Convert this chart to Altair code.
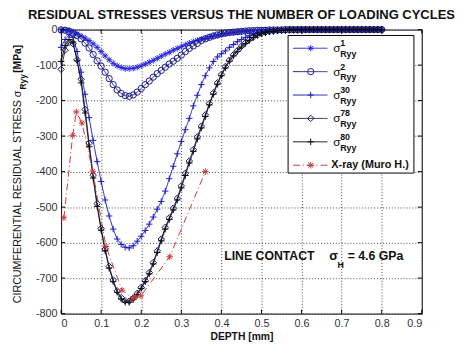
import altair as alt
import pandas as pd

# ---------------- data ----------------
depth = [round(i * 0.01, 2) for i in range(81)]

s1 = [0, -1, -2, -6, -12, -18, -24, -31, -40, -50,
      -62, -74, -85, -95, -102, -107, -110, -110, -109, -106,
      -102, -97, -92, -87, -81, -75, -69, -64, -58, -53,
      -48, -43, -38, -34, -30, -27, -24, -21, -18, -16,
      -14, -12, -10, -9, -7, -6, -5, -4, -3, -3,
      -2, -2, -1, -1, -1, -1, 0, 0, 0, 0,
      0, 0, 0, 0, 0, 0, 0, 0, 0, 0,
      0, 0, 0, 0, 0, 0, 0, 0, 0, 0,
      0]

s2 = [-1, -2, -5, -10, -17, -26, -38, -52, -70, -88,
      -103, -120, -138, -155, -170, -180, -186, -188, -184, -176,
      -166, -155, -145, -134, -124, -115, -106, -97, -89, -81,
      -72, -62, -53, -46, -39, -31, -26, -22, -18, -15,
      -12, -10, -8, -7, -6, -5, -4, -3, -3, -2,
      -2, -2, -1, -1, -1, -1, 0, 0, 0, 0,
      0, 0, 0, 0, 0, 0, 0, 0, 0, 0,
      0, 0, 0, 0, 0, 0, 0, 0, 0, 0,
      0]

s30 = [-50, -28, -15, -22, -62, -120, -182, -248, -312, -372,
       -428, -480, -525, -562, -590, -605, -613, -615, -609, -596,
       -582, -566, -548, -528, -506, -484, -455, -420, -385, -350,
       -315, -282, -250, -215, -185, -155, -130, -108, -90, -77,
       -68, -60, -50, -42, -34, -28, -22, -17, -13, -10,
       -8, -6, -5, -4, -3, -2, -2, -1, -1, -1,
       0, 0, 0, 0, 0, 0, 0, 0, 0, 0,
       0, 0, 0, 0, 0, 0, 0, 0, 0, 0,
       0]

s78 = [-112, -58, -36, -40, -85, -140, -225, -320, -410, -490,
       -560, -618, -667, -705, -736, -755, -764, -765, -756, -743,
       -726, -707, -684, -656, -623, -590, -557, -530, -503, -475,
       -440, -405, -370, -338, -302, -272, -240, -208, -178, -150,
       -126, -104, -86, -71, -59, -47, -37, -28, -21, -15,
       -11, -8, -6, -4, -3, -2, -2, -1, -1, -1,
       0, 0, 0, 0, 0, 0, 0, 0, 0, 0,
       0, 0, 0, 0, 0, 0, 0, 0, 0, 0,
       0]

s80 = [-90, -45, -28, -35, -88, -150, -235, -330, -418, -498,
       -565, -623, -672, -710, -740, -759, -768, -768, -760, -746,
       -729, -710, -688, -660, -628, -595, -562, -535, -508, -480,
       -446, -411, -376, -343, -308, -277, -245, -212, -182, -154,
       -130, -108, -89, -74, -61, -49, -39, -30, -22, -16,
       -12, -9, -6, -5, -3, -2, -2, -1, -1, -1,
       0, 0, 0, 0, 0, 0, 0, 0, 0, 0,
       0, 0, 0, 0, 0, 0, 0, 0, 0, 0,
       0]

xray_depth = [0.007, 0.029, 0.038, 0.052, 0.079, 0.112, 0.152, 0.179, 0.186, 0.199, 0.271, 0.360]
xray_val = [-530, -298, -232, -263, -399, -611, -734, -758, -753, -750, -640, -400]

series_keys = ["s1", "s2", "s30", "s78", "s80", "xray"]
sup_labels = ["1", "2", "30", "78", "80", ""]
x_ticks = [0, 0.1, 0.2, 0.3, 0.4, 0.5, 0.6, 0.7, 0.8, 0.9]
y_ticks = [0, -100, -200, -300, -400, -500, -600, -700, -800]

# ---------------- styling ----------------
colors = ["#2424e0", "#1c1c8a", "#1a1ac4", "#14145a", "#0a0a0a", "#c83838"]
asterisk = "M-1,0L1,0M0,-1L0,1M-0.7,-0.7L0.7,0.7M-0.7,0.7L0.7,-0.7"
plus = "M-1,0L1,0M0,-1L0,1"
shapes = [asterisk, "circle", plus, "diamond", plus, asterisk]
sizes = [40, 45, 60, 45, 60, 50]
dashes = [[1, 0], [1, 0], [1, 0], [1, 0], [1, 0], [7, 3, 1, 3]]
FONT = "Liberation Sans"

W, H = 367, 289

rows = []
for key, vals in zip(series_keys[:5], [s1, s2, s30, s78, s80]):
    for d, v in zip(depth, vals):
        rows.append({"series": key, "depth": d, "stress": v})
for d, v in zip(xray_depth, xray_val):
    rows.append({"series": "xray", "depth": d, "stress": v})
df = pd.DataFrame(rows)

xsc = alt.Scale(domain=[0, 0.9], nice=False, zero=False)
ysc = alt.Scale(domain=[-800, 0], nice=False, zero=False)
csc = alt.Scale(domain=series_keys, range=colors)
shsc = alt.Scale(domain=series_keys, range=shapes)
szsc = alt.Scale(domain=series_keys, range=sizes)
dsc = alt.Scale(domain=series_keys, range=dashes)

xaxis = alt.Axis(values=x_ticks, labelExpr="format(datum.value, '.1~f')", grid=True,
                 gridDash=[1, 2], gridColor="#444444", ticks=False, domain=False,
                 labelOverlap=False,
                 labelFont=FONT, labelFontSize=11, labelColor="#333333", labelPadding=4,
                 title="DEPTH [mm]", titleFont=FONT, titleFontSize=10.5, titleFontWeight="bold",
                 titlePadding=3, titleColor="#111111")
yaxis = alt.Axis(values=y_ticks, labelExpr="datum.value == 0 ? '0' : '-' + abs(datum.value)",
                 grid=True, gridDash=[1, 2], gridColor="#444444", ticks=False, domain=False,
                 labelOverlap=False,
                 labelFont=FONT, labelFontSize=11, labelColor="#333333", labelPadding=4,
                 title=None)

base = alt.Chart(df)
lines = base.mark_line(strokeWidth=1).encode(
    x=alt.X("depth:Q", scale=xsc, axis=xaxis),
    y=alt.Y("stress:Q", scale=ysc, axis=yaxis),
    color=alt.Color("series:N", scale=csc, legend=None),
    strokeDash=alt.StrokeDash("series:N", scale=dsc, legend=None),
    detail="series:N",
    order="depth:Q",
)
points = base.mark_point(filled=False, strokeWidth=1, opacity=1).encode(
    x=alt.X("depth:Q", scale=xsc, axis=xaxis),
    y=alt.Y("stress:Q", scale=ysc, axis=yaxis),
    color=alt.Color("series:N", scale=csc, legend=None),
    shape=alt.Shape("series:N", scale=shsc, legend=None),
    size=alt.Size("series:N", scale=szsc, legend=None),
)

# inward ticks on the four sides (same fields as the data so the axes merge)
xt = pd.DataFrame({"depth": x_ticks})
yt = pd.DataFrame({"stress": y_ticks})
tick_b = alt.Chart(xt).mark_rule(color="black").encode(
    x=alt.X("depth:Q", scale=xsc, axis=xaxis), y=alt.value(H), y2=alt.value(H - 4))
tick_t = alt.Chart(xt).mark_rule(color="black").encode(
    x=alt.X("depth:Q", scale=xsc, axis=xaxis), y=alt.value(0), y2=alt.value(4))
tick_l = alt.Chart(yt).mark_rule(color="black").encode(
    y=alt.Y("stress:Q", scale=ysc, axis=yaxis), x=alt.value(0), x2=alt.value(4))
tick_r = alt.Chart(yt).mark_rule(color="black").encode(
    y=alt.Y("stress:Q", scale=ysc, axis=yaxis), x=alt.value(W), x2=alt.value(W - 4))

# ---------------- legend (drawn inside the plot) ----------------
leg = pd.DataFrame({"series": series_keys, "sup": sup_labels,
                    "ly": [19 + 23.8 * i for i in range(6)]})
leg["lys"] = leg["ly"] - 5
leg["lyb"] = leg["ly"] + 6
leg_sig = leg[leg["series"] != "xray"]
leg_x = leg[leg["series"] == "xray"].assign(label="X-ray (Muro H.)")

legend_box = alt.Chart(pd.DataFrame({"a": [0]})).mark_rect(fill="white", stroke="black", strokeWidth=1).encode(
    x=alt.value(231), x2=alt.value(359), y=alt.value(6), y2=alt.value(146))
leg_line = alt.Chart(leg).mark_rule(strokeWidth=1).encode(
    x=alt.value(236), x2=alt.value(271), y=alt.Y("ly:Q", scale=None),
    color=alt.Color("series:N", scale=csc, legend=None),
    strokeDash=alt.StrokeDash("series:N", scale=dsc, legend=None))
leg_pt = alt.Chart(leg).mark_point(filled=False, strokeWidth=1, opacity=1).encode(
    x=alt.value(254), y=alt.Y("ly:Q", scale=None),
    color=alt.Color("series:N", scale=csc, legend=None),
    shape=alt.Shape("series:N", scale=shsc, legend=None),
    size=alt.Size("series:N", scale=szsc, legend=None))
leg_sigma = alt.Chart(leg_sig).mark_text(text="σ", align="left", baseline="middle", font=FONT,
                                        fontSize=12, color="#111111").encode(
    x=alt.value(277), y=alt.Y("ly:Q", scale=None))
leg_sup = alt.Chart(leg_sig).mark_text(align="left", baseline="middle", font=FONT, fontSize=9,
                                      fontWeight="bold", color="#111111").encode(
    x=alt.value(284), y=alt.Y("lys:Q", scale=None), text="sup:N")
leg_sub = alt.Chart(leg_sig).mark_text(text="Ryy", align="left", baseline="middle", font=FONT, fontSize=9,
                                      fontWeight="bold", color="#111111").encode(
    x=alt.value(284), y=alt.Y("lyb:Q", scale=None))
leg_xr = alt.Chart(leg_x).mark_text(align="left", baseline="middle", font=FONT, fontSize=11,
                                   fontWeight="bold", color="#111111").encode(
    x=alt.value(275), y=alt.Y("ly:Q", scale=None), text="label:N")

# ---------------- texts ----------------
one = pd.DataFrame({"a": [0]})
title = alt.Chart(one).mark_text(text="RESIDUAL STRESSES VERSUS THE NUMBER OF LOADING CYCLES",
                                 align="center", baseline="middle", font=FONT, fontSize=13.2,
                                 fontWeight="bold", color="#111111").encode(x=alt.value(W / 2), y=alt.value(-15))
ytA = alt.Chart(one).mark_text(text="CIRCUMFERENTIAL RESIDUAL STRESS σ", angle=270, align="right",
                               baseline="middle", font=FONT, fontSize=10.9, color="#111111").encode(
    x=alt.value(-44), y=alt.value(62))
ytB = alt.Chart(one).mark_text(text="Ryy", angle=270, align="left", baseline="middle", font=FONT,
                               fontSize=8.5, fontWeight="bold", color="#111111").encode(
    x=alt.value(-39), y=alt.value(61))
ytC = alt.Chart(one).mark_text(text="[MPa]", angle=270, align="left", baseline="middle", font=FONT,
                               fontSize=10.5, fontWeight="bold", color="#111111").encode(
    x=alt.value(-44), y=alt.value(44))

ann = pd.DataFrame({"t": ["LINE CONTACT", "σ", "H", "= 4.6 GPa"],
                    "depth": [0.407, 0.669, 0.690, 0.715],
                    "stress": [-639, -638, -662, -639],
                    "fs": [12.5, 13, 9, 12.5]})
ann_txt = alt.Chart(ann).mark_text(align="left", baseline="middle", font=FONT, fontWeight="bold",
                                   color="#111111").encode(
    x=alt.X("depth:Q", scale=xsc, axis=xaxis), y=alt.Y("stress:Q", scale=ysc, axis=yaxis), text="t:N",
    size=alt.Size("fs:Q", scale=None, legend=None))

chart = alt.layer(
    lines, points, tick_b, tick_t, tick_l, tick_r,
    legend_box, leg_line, leg_pt, leg_sigma, leg_sup, leg_sub, leg_xr,
    title, ytA, ytB, ytC, ann_txt,
).resolve_scale(size="independent").properties(
    width=W, height=H,
    autosize=alt.AutoSizeParams(type="none"),
    padding={"left": 54, "top": 19, "right": 45, "bottom": 30},
    background="white",
).configure_view(stroke="black", strokeWidth=1).configure_axis(labelOverlap=False)

chart.save("out.html", embed_options={"renderer": "svg", "actions": False})
